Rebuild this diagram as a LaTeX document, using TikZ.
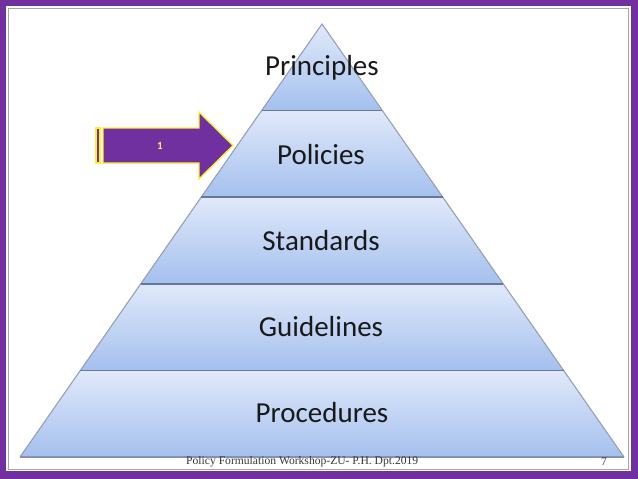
\documentclass[tikz,border=0pt]{standalone}
\usepackage{fontspec}
\setmainfont{Carlito}
\newfontfamily\footfont{Liberation Serif}
\definecolor{frameP}{HTML}{7030A0}
\definecolor{layTop}{HTML}{E0E9FA}
\definecolor{layBot}{HTML}{A4C0EE}
\definecolor{sepLine}{HTML}{65779A}
\definecolor{edgeG}{HTML}{96A2B5}
\definecolor{arrY}{HTML}{FFEE33}
\tikzset{
  layer/.style={top color=layTop,bottom color=layBot,draw=none},
  sep/.style={draw=sepLine,line width=1.5pt},
  lbl/.style={font=\fontsize{29}{32}\selectfont,text=black!90},
  foot/.style={font=\footfont\fontsize{11.6}{13}\selectfont,text=black!78,inner sep=0pt}
}
\begin{document}
\begin{tikzpicture}[x=1pt,y=-1pt]
\useasboundingbox (0,0) rectangle (638,479);
% frame
\fill[frameP] (0,0) rectangle (638,479);
\fill[white] (5.5,6) rectangle (631,471);
\draw[gray!70,line width=1pt] (8,8.5) rectangle (628.5,469);
% pyramid layers
\fill[layer] (322,24) -- (382.4,110.6) -- (261.6,110.6) -- cycle;
\fill[layer] (261.6,110.6) -- (382.4,110.6) -- (442.8,197.2) -- (201.2,197.2) -- cycle;
\fill[layer] (201.2,197.2) -- (442.8,197.2) -- (503.2,283.8) -- (140.8,283.8) -- cycle;
\fill[layer] (140.8,283.8) -- (503.2,283.8) -- (563.6,370.4) -- (80.4,370.4) -- cycle;
\fill[layer] (80.4,370.4) -- (563.6,370.4) -- (624,457) -- (20,457) -- cycle;
\draw[edgeG,line width=1.1pt] (20,457) -- (322,24) -- (624,457);
\draw[sep] (261.6,110.6) -- (382.4,110.6);
\draw[sep] (201.2,197.2) -- (442.8,197.2);
\draw[sep] (140.8,283.8) -- (503.2,283.8);
\draw[sep] (80.4,370.4) -- (563.6,370.4);
\draw[sepLine!80,line width=1.6pt] (20,457) -- (624,457);
% labels
\node[lbl] (principles) at (322,68) {Principles};
\node[lbl] (policies) at (321,155) {Policies};
\node[lbl] (standards) at (321,241) {Standards};
\node[lbl] (guidelines) at (321,327) {Guidelines};
\node[lbl] (procedures) at (322,413) {Procedures};
% arrow
\draw[fill=frameP,draw=arrY,line width=1.3pt,line join=miter]
  (103,128) -- (199,128) -- (199,112) -- (233,145.5) -- (199,179) -- (199,163) -- (103,163) -- cycle;
\draw[fill=frameP,draw=arrY,line width=1.3pt] (96,128) rectangle (100,163);
\node[font=\bfseries\fontsize{11}{12}\selectfont,text=arrY!80!white] (one) at (160,146) {1};
% footer
\node[foot,anchor=west] (footer) at (186,462) {Policy Formulation Workshop-ZU- P.H. Dpt.2019};
\node[foot] (page) at (604,462) {7};
\end{tikzpicture}
\end{document}
